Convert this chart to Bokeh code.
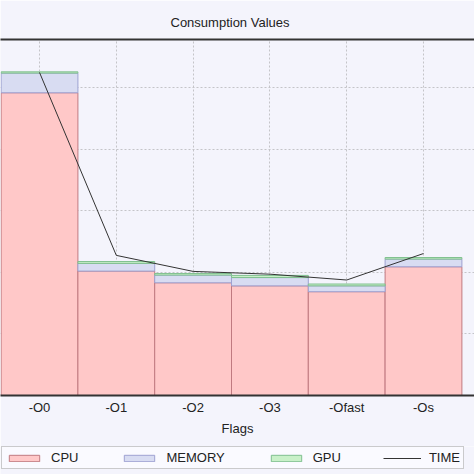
from bokeh.plotting import figure
from bokeh.layouts import column
from bokeh.models import (Range1d, LinearAxis, Legend, LegendItem, Title,
                          FixedTicker, ColumnDataSource)
from bokeh.embed import file_html
from bokeh.resources import INLINE

# ---- data ----
flags = ["-O0", "-O1", "-O2", "-O3", "-Ofast", "-Os"]
cpu = [98.3, 40.4, 36.6, 35.6, 33.7, 41.8]
memory = [6.4, 2.5, 2.5, 2.7, 1.9, 2.5]
gpu = [0.4, 0.6, 0.5, 0.7, 0.6, 0.5]
time_vals = [104.9, 45.5, 40.3, 39.4, 37.5, 46.1]
y_ticks = [0, 20, 40, 60, 80, 100]
series = ["CPU", "MEMORY", "GPU"]
fills = ["#ffc8c8", "#d8dcf2", "#c8f0c8"]
edges = ["#c07a80", "#9ea2d2", "#7fbf8f"]

xs = list(range(len(flags)))
src = ColumnDataSource(dict(x=xs, cpu=cpu, memory=memory, gpu=gpu, time=time_vals))

FONT = "Liberation Sans"
BG = "#f4f4fc"

p = figure(width=474, height=446, output_backend="svg", toolbar_location=None,
           x_range=Range1d(-0.508, 5.664), y_range=Range1d(0, 115.6),
           y_axis_location=None, x_axis_location="below",
           min_border_left=0, min_border_right=0, min_border_top=39, min_border_bottom=51)
p.background_fill_color = BG
p.border_fill_color = BG
p.outline_line_color = None

p.title = Title(text="Consumption Values", align="left", offset=170, standoff=19,
                text_font=FONT, text_font_size="13px", text_font_style="normal",
                text_color="#222222")

stack = p.vbar_stack(["cpu", "memory", "gpu"], x="x", width=1.0, source=src,
                     fill_color=fills, line_color=edges, line_width=1)
r_time = p.line("x", "time", source=src, line_color="#333333", line_width=1)

# grids
p.xgrid.ticker = FixedTicker(ticks=xs)
p.ygrid.ticker = FixedTicker(ticks=y_ticks)
for g in (p.xgrid, p.ygrid):
    g.grid_line_color = "#c4c4c8"
    g.grid_line_dash = "2 2"
    g.grid_line_width = 1

# x axis
ax = p.xaxis[0]
ax.ticker = FixedTicker(ticks=xs)
ax.major_label_overrides = {i: f for i, f in enumerate(flags)}
ax.axis_line_width = 2
ax.axis_line_color = "#333333"
ax.major_tick_line_color = None
ax.minor_tick_line_color = None
ax.major_tick_out = 0
ax.major_tick_in = 0
ax.major_label_standoff = 4
ax.major_label_text_font = FONT
ax.major_label_text_font_size = "13px"
ax.major_label_text_color = "#222222"
ax.axis_label = "Flags"
ax.axis_label_standoff = 3
ax.axis_label_text_font = FONT
ax.axis_label_text_font_size = "13px"
ax.axis_label_text_font_style = "normal"
ax.axis_label_text_color = "#222222"

# top border line
top_ax = LinearAxis(ticker=FixedTicker(ticks=[]), axis_line_width=2,
                    axis_line_color="#333333", major_label_text_font_size="0px",
                    major_tick_out=0, major_tick_in=0, minor_tick_out=0,
                    minor_tick_in=0, major_label_standoff=0)
p.add_layout(top_ax, "above")

# ---- legend strip below the chart (same data, ranges placed out of view) ----
p2 = figure(width=474, height=28, output_backend="svg", toolbar_location=None,
            x_range=Range1d(1000, 1001), y_range=Range1d(1000, 1001),
            x_axis_location=None, y_axis_location=None,
            min_border=0)
p2.background_fill_color = BG
p2.border_fill_color = BG
p2.outline_line_color = None
p2.grid.visible = False

leg_stack = p2.vbar_stack(["cpu", "memory", "gpu"], x="x", width=1.0, source=src,
                          fill_color=fills, line_color=edges, line_width=1)
leg_line = p2.line("x", "time", source=src, line_color="#333333", line_width=1)

legend = Legend(items=[LegendItem(label=s, renderers=[r]) for s, r in zip(series, leg_stack)]
                + [LegendItem(label="TIME", renderers=[leg_line])],
                orientation="horizontal", location=(1, 5),
                glyph_width=38, glyph_height=8, label_height=15, label_standoff=8,
                spacing=42, padding=3, margin=0,
                border_line_color="#9a9a9a", border_line_width=1,
                background_fill_color="#fafaff",
                label_text_font=FONT, label_text_font_size="13px",
                label_text_color="#222222")
p2.add_layout(legend, "center")

layout = column(p, p2, spacing=0)
open("out.html", "w").write(file_html(layout, INLINE))
